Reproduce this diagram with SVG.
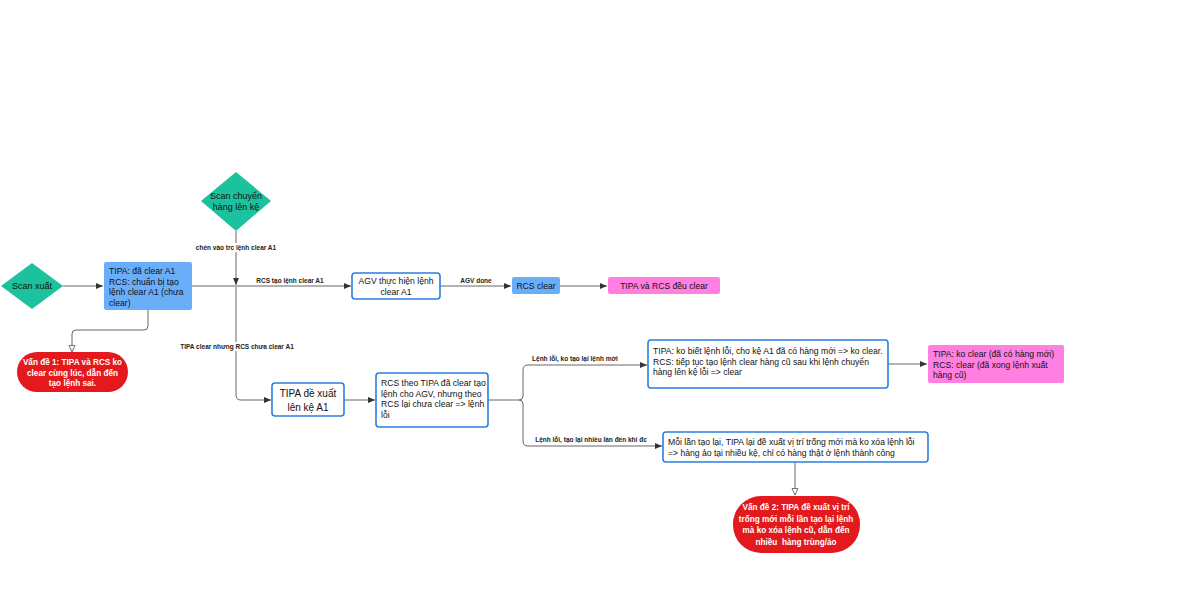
<svg xmlns="http://www.w3.org/2000/svg" width="1200" height="600" viewBox="0 0 1200 600">
<style>
text{font-family:"Liberation Sans",Arial,sans-serif;fill:#111}
.t{font-size:8.6px}
.c{text-anchor:middle}
.lbl{font-size:6.5px;font-weight:bold;text-anchor:middle;fill:#222}
.red text,.redt{font-size:8.2px;font-weight:bold;fill:#fff;text-anchor:middle}
.con{fill:none;stroke:#666;stroke-width:1}
.wb{fill:#fff;stroke:#2a7de1;stroke-width:1.6}
.bb{fill:#6aaefa}
.pk{fill:#ff80e0}
.dm{fill:#1cc19e}
.rd{fill:#e3191d}
</style>
<defs>
<marker id="a" viewBox="0 0 8 8" refX="7" refY="4" markerWidth="8" markerHeight="8" markerUnits="userSpaceOnUse" orient="auto"><path d="M0,1 L7,4 L0,7 z" fill="#333"/></marker>
<marker id="h" viewBox="0 0 8 8" refX="7" refY="4" markerWidth="8" markerHeight="8" markerUnits="userSpaceOnUse" orient="auto"><path d="M0.5,1 L7,4 L0.5,7 z" fill="#fff" stroke="#666" stroke-width="0.9"/></marker>
</defs>
<rect width="1200" height="600" fill="#fff"/>
<g id="connectors">
<path class="con" d="M63,286 L103,286" marker-end="url(#a)"/>
<path class="con" d="M192,286 L351,286" marker-end="url(#a)"/>
<path class="con" d="M236,231 L236,285" marker-end="url(#a)"/>
<path class="con" d="M236,287 L236,395 Q236,400 241,400 L271,400" marker-end="url(#a)"/>
<path class="con" d="M148,310 L148,326 Q148,330 144,330 L76,330 Q72,330 72,334 L72,352" marker-end="url(#h)"/>
<path class="con" d="M440,286 L511,286" marker-end="url(#a)"/>
<path class="con" d="M560,286 L607,286" marker-end="url(#a)"/>
<path class="con" d="M344,400 L375,400" marker-end="url(#a)"/>
<path class="con" d="M488,400 L519,400 Q523,400 523,396 L523,370 Q523,365 528,365 L647,365" marker-end="url(#a)"/>
<path class="con" d="M519,400 Q523,400 523,404 L523,441 Q523,446 528,446 L662,446" marker-end="url(#a)"/>
<path class="con" d="M888,364 L927,364" marker-end="url(#a)"/>
<path class="con" d="M795,462 L795,495" marker-end="url(#h)"/>
<rect x="194" y="243" width="84" height="9" fill="#fff"/>
<text class="lbl" x="236" y="250">chèn vào trc lệnh clear A1</text>
<rect x="181" y="342" width="112" height="9" fill="#fff"/>
<text class="lbl" x="237" y="349">TIPA clear nhưng RCS chưa clear A1</text>
<text class="lbl" x="290" y="283">RCS tạo lệnh clear A1</text>
<text class="lbl" x="476" y="283">AGV done</text>
<text class="lbl" x="575" y="361">Lệnh lỗi, ko tạo lại lệnh mới</text>
<text class="lbl" x="591" y="442">Lệnh lỗi, tạo lại nhiều lần đến khi đc</text>
</g>
<g id="scan-xuat">
<path class="dm" d="M32,263 L63,286 L32,309 L1,286 z"/>
<text class="c" x="32" y="289" font-size="9">Scan xuất</text>
</g>
<g id="scan-chuyen">
<path class="dm" d="M236,172 L271,201 L236,231 L201,201 z"/>
<text class="c" x="236" y="199" font-size="9">Scan chuyển</text>
<text class="c" x="236" y="210" font-size="9">hàng lên kệ</text>
</g>
<g id="tipa-clear">
<rect class="bb" x="104" y="262" width="88" height="48" rx="2"/>
<text class="t" x="109" y="274">TIPA: đã clear A1</text>
<text class="t" x="109" y="284.5">RCS: chuẩn bị tạo</text>
<text class="t" x="109" y="295">lệnh clear A1 (chưa</text>
<text class="t" x="109" y="305.5">clear)</text>
</g>
<g id="van-de-1" class="red">
<rect class="rd" x="17" y="352" width="111" height="40" rx="20"/>
<text x="72.5" y="365">Vấn đề 1: TIPA và RCS ko</text>
<text x="72.5" y="375.5">clear cùng lúc, dẫn đến</text>
<text x="72.5" y="386">tạo lệnh sai.</text>
</g>
<g id="agv">
<rect class="wb" x="352" y="273" width="88" height="26" rx="3"/>
<text class="t c" x="396" y="284">AGV thực hiện lệnh</text>
<text class="t c" x="396" y="294.5">clear A1</text>
</g>
<g id="rcs-clear">
<rect class="bb" x="512" y="277" width="48" height="17" rx="2"/>
<text class="t c" x="536" y="288.5">RCS clear</text>
</g>
<g id="both-clear">
<rect class="pk" x="608" y="277" width="112" height="17" rx="2"/>
<text class="t c" x="664" y="288.5">TIPA và RCS đều clear</text>
</g>
<g id="tipa-de-xuat">
<rect class="wb" x="272" y="383" width="72" height="33" rx="3"/>
<text class="c" x="308" y="397" font-size="10">TIPA đề xuất</text>
<text class="c" x="308" y="411" font-size="10">lên kệ A1</text>
</g>
<g id="rcs-theo">
<rect class="wb" x="376" y="373" width="112" height="54" rx="3"/>
<text class="t" x="381" y="386">RCS theo TIPA đã clear tạo</text>
<text class="t" x="381" y="396.7">lệnh cho AGV, nhưng theo</text>
<text class="t" x="381" y="407.4">RCS lại chưa clear =&gt; lệnh</text>
<text class="t" x="381" y="418">lỗi</text>
</g>
<g id="tipa-ko-biet">
<rect class="wb" x="648" y="340" width="240" height="48" rx="3"/>
<text class="t" x="653" y="354">TIPA: ko biết lệnh lỗi, cho kệ A1 đã có hàng mới =&gt; ko clear.</text>
<text class="t" x="653" y="364.7">RCS: tiếp tục tạo lệnh clear hàng cũ sau khi lệnh chuyển</text>
<text class="t" x="653" y="375.4">hàng lên kệ lỗi =&gt; clear</text>
</g>
<g id="ko-clear">
<rect class="pk" x="928" y="345" width="136" height="38" rx="2"/>
<text class="t" x="933" y="357">TIPA: ko clear (đã có hàng mới)</text>
<text class="t" x="933" y="367.5">RCS: clear (đã xong lệnh xuất</text>
<text class="t" x="933" y="378">hàng cũ)</text>
</g>
<g id="moi-lan">
<rect class="wb" x="663" y="432" width="265" height="30" rx="3"/>
<text class="t" x="668" y="444.5">Mỗi lần tạo lại, TIPA lại đề xuất vị trí trống mới mà ko xóa lệnh lỗi</text>
<text class="t" x="668" y="455.5">=&gt; hàng ảo tại nhiều kệ, chỉ có hàng thật ở lệnh thành công</text>
</g>
<g id="van-de-2" class="red">
<rect class="rd" x="733" y="496" width="127" height="57" rx="28"/>
<text x="796" y="510">Vấn đề 2: TIPA đề xuất vị trí</text>
<text x="796" y="521.5">trống mới mỗi lần tạo lại lệnh</text>
<text x="796" y="533">mà ko xóa lệnh cũ, dẫn đến</text>
<text x="796" y="544.5">nhiều&#160; hàng trùng/ảo</text>
</g>
</svg>
